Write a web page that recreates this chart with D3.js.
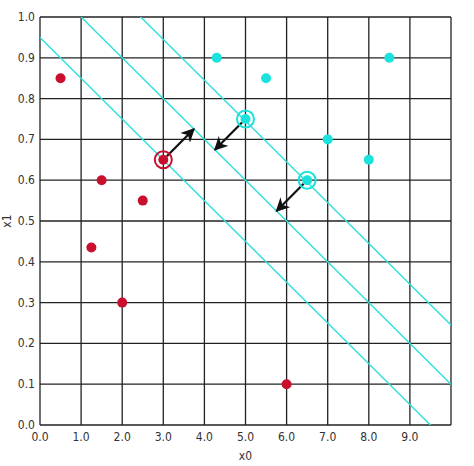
<!DOCTYPE html>
<html><head><meta charset="utf-8">
<script src="https://cdn.jsdelivr.net/npm/d3@7"></script>
<style>
body{margin:0;background:#fff}
text{font-family:"Liberation Sans Narrow","DejaVu Sans Condensed",sans-serif;font-size:12px;fill:#333}
</style></head><body><svg></svg>
<script>
const redX = [0.5, 1.5, 1.25, 2, 2.5, 3, 6];
const redY = [0.85, 0.6, 0.435, 0.3, 0.55, 0.65, 0.1];
const cyanX = [4.3, 5.5, 8.5, 7, 8, 5, 6.5];
const cyanY = [0.9, 0.85, 0.9, 0.7, 0.65, 0.75, 0.6];
const supportX = [3, 5, 6.5];
const supportY = [0.65, 0.75, 0.6];
const supportColor = ["#c8102e", "#19e3dc", "#19e3dc"];
// margin lines y = b - 0.1 x
const lineB = [0.95, 1.1, 1.245];
const lineSlope = -0.1;
const xTicks = [0, 1, 2, 3, 4, 5, 6, 7, 8, 9, 10];
const yTicks = [0, 0.1, 0.2, 0.3, 0.4, 0.5, 0.6, 0.7, 0.8, 0.9, 1.0];

const width = 474, height = 466;
const svg = d3.select("svg").attr("width", width).attr("height", height);
const x = d3.scaleLinear().domain([0, 10]).range([40, 451]);
const y = d3.scaleLinear().domain([0, 1]).range([425, 17]);

svg.append("defs").append("clipPath").attr("id", "clip")
  .append("rect").attr("x", 40).attr("y", 17).attr("width", 411).attr("height", 408);
svg.select("defs").append("marker").attr("id", "head")
  .attr("viewBox", "0 0 10 10").attr("refX", 9).attr("refY", 5)
  .attr("markerUnits", "userSpaceOnUse").attr("markerWidth", 14).attr("markerHeight", 14).attr("orient", "auto")
  .append("path").attr("d", "M0,0 L10,5 L0,10 L3,5 Z").attr("fill", "#111");

// grid
svg.append("g").selectAll("line").data(xTicks).join("line")
  .attr("x1", d => x(d)).attr("x2", d => x(d)).attr("y1", y(0)).attr("y2", y(1))
  .attr("stroke", "#222").attr("stroke-width", 1.3);
svg.append("g").selectAll("line").data(yTicks).join("line")
  .attr("y1", d => y(d)).attr("y2", d => y(d)).attr("x1", x(0)).attr("x2", x(10))
  .attr("stroke", "#222").attr("stroke-width", 1.3);

// tick labels
svg.append("g").selectAll("text").data(xTicks.slice(0, 10)).join("text")
  .attr("x", d => x(d)).attr("y", 441).attr("text-anchor", "middle").text(d => d.toFixed(1));
svg.append("g").selectAll("text").data(yTicks).join("text")
  .attr("x", 35).attr("y", d => y(d) + 4).attr("text-anchor", "end").text(d => d.toFixed(1));
svg.append("text").attr("x", x(5)).attr("y", 460).attr("text-anchor", "middle").text("x0");
svg.append("text").attr("transform", `translate(11,${y(0.5)}) rotate(-90)`)
  .attr("text-anchor", "middle").text("x1");

// margin lines
svg.append("g").attr("clip-path", "url(#clip)").selectAll("line").data(lineB).join("line")
  .attr("x1", x(-1)).attr("y1", d => y(d - lineSlope)).attr("x2", x(11)).attr("y2", d => y(d + 11 * lineSlope))
  .attr("stroke", "#2de0dc").attr("stroke-width", 1.4);

// arrows: perpendicular (in pixels) from each support vector to the middle line
const mid = lineB[1];
const ax = x(0), ay = y(mid), bx = x(10), by = y(mid + 10 * lineSlope);
svg.append("g").selectAll("line").data(supportX).join("line")
  .each(function (d, i) {
    const px = x(d), py = y(supportY[i]);
    const ux = bx - ax, uy = by - ay;
    const t = ((px - ax) * ux + (py - ay) * uy) / (ux * ux + uy * uy);
    const qx = ax + t * ux, qy = ay + t * uy;
    const len = Math.hypot(qx - px, qy - py);
    const s = 5 / len;
    d3.select(this).attr("x1", px + (qx - px) * s).attr("y1", py + (qy - py) * s)
      .attr("x2", qx).attr("y2", qy);
  })
  .attr("stroke", "#111").attr("stroke-width", 2.2).attr("marker-end", "url(#head)");

// points
svg.append("g").selectAll("circle").data(redX).join("circle")
  .attr("cx", d => x(d)).attr("cy", (d, i) => y(redY[i])).attr("r", 5).attr("fill", "#c8102e");
svg.append("g").selectAll("circle").data(cyanX).join("circle")
  .attr("cx", d => x(d)).attr("cy", (d, i) => y(cyanY[i])).attr("r", 5).attr("fill", "#19e3dc");
svg.append("g").selectAll("circle").data(supportX).join("circle")
  .attr("cx", d => x(d)).attr("cy", (d, i) => y(supportY[i])).attr("r", 8.5)
  .attr("fill", "none").attr("stroke", (d, i) => supportColor[i]).attr("stroke-width", 2);
</script></body></html>
